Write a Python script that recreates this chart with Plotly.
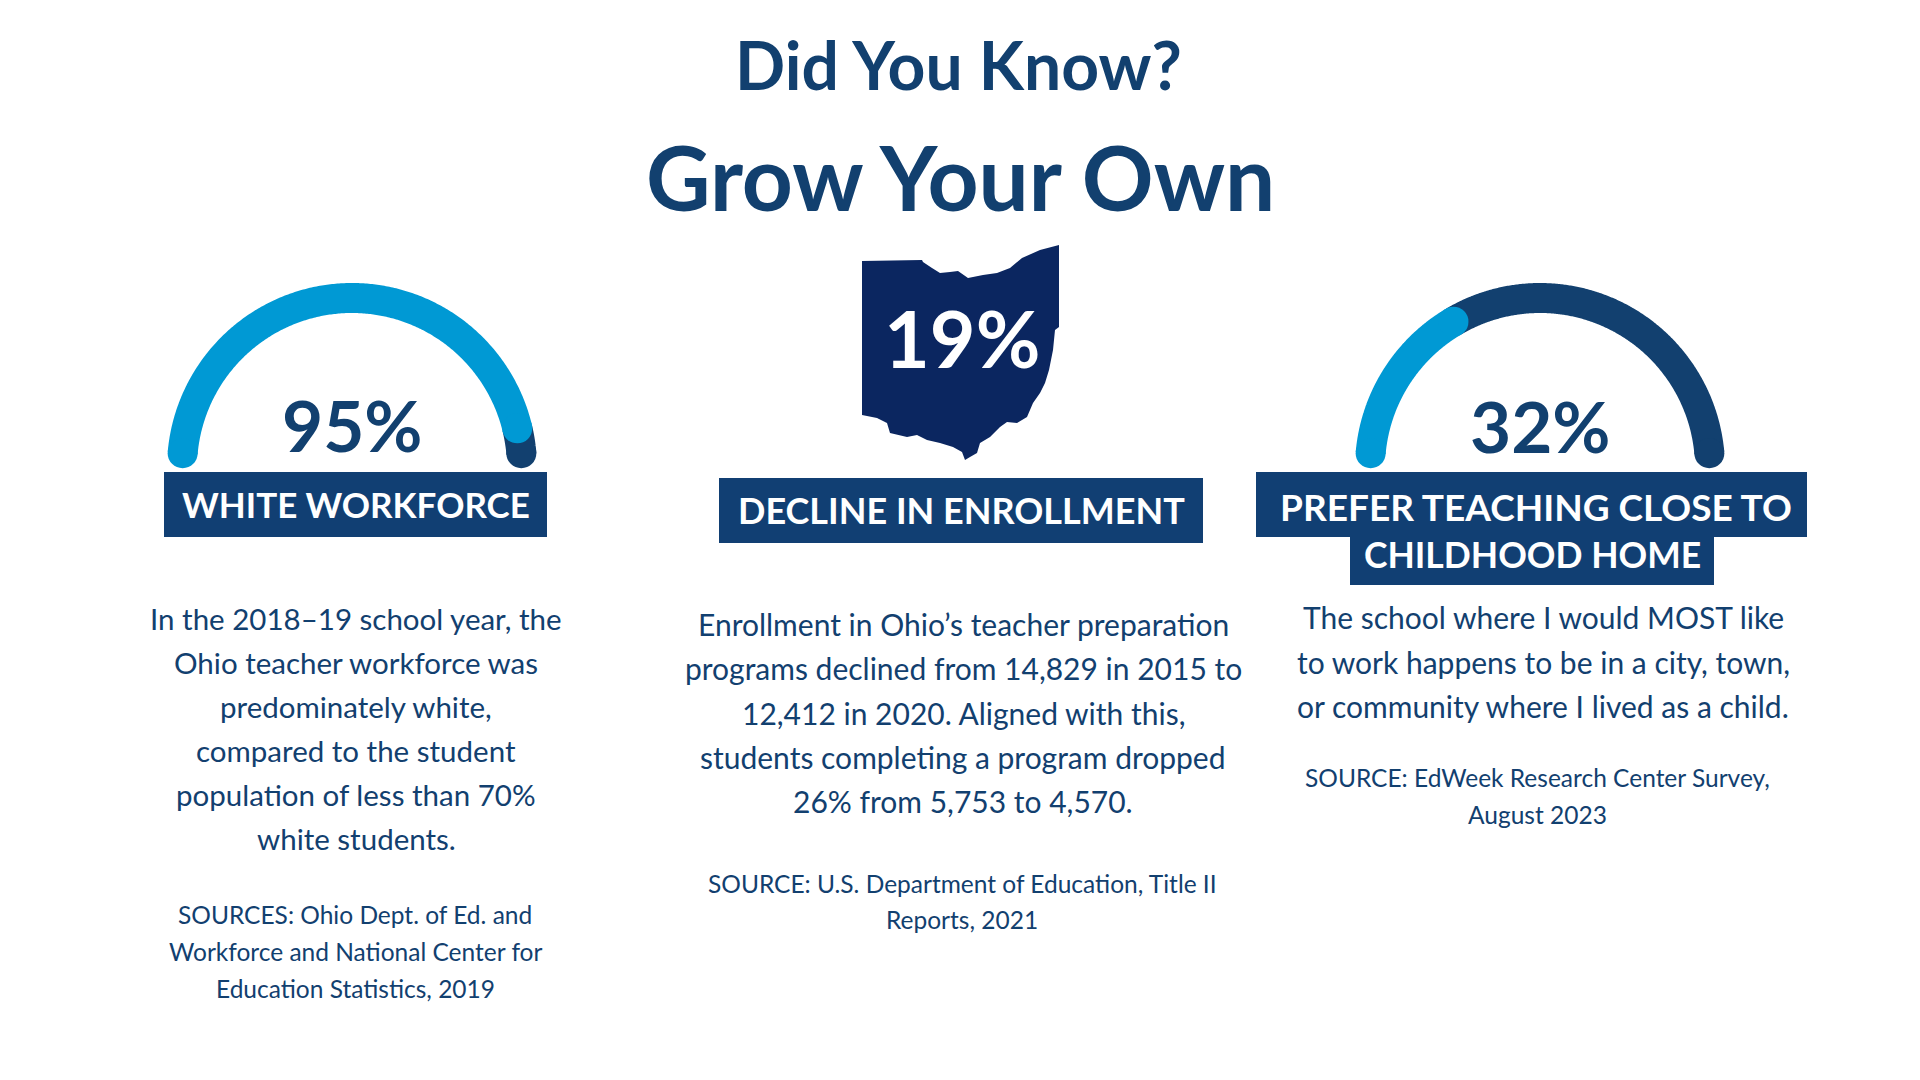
import numpy as np
import plotly.graph_objects as go

# --- data ---
gauge_names = ["WHITE WORKFORCE", "PREFER TEACHING CLOSE TO CHILDHOOD HOME"]
gauge_values = [95, 32]
enrollment_decline = 19

left_body = ["In the 2018\u201319 school year, the", "Ohio teacher workforce was",
             "predominately white,", "compared to the student",
             "population of less than 70%", "white students."]
left_source = ["SOURCES: Ohio Dept. of Ed. and", "Workforce and National Center for",
               "Education Statistics, 2019"]
mid_body = ["Enrollment in Ohio\u2019s teacher preparation", "programs declined from 14,829 in 2015 to",
            "12,412 in 2020. Aligned with this,", "students completing a program dropped",
            "26% from 5,753 to 4,570."]
mid_source = ["SOURCE: U.S. Department of Education, Title II", "Reports, 2021"]
right_body = ["The school where I would MOST like", "to work happens to be in a city, town,",
              "or community where I lived as a child."]
right_source = ["SOURCE: EdWeek Research Center Survey,", "August 2023"]

NAVY = "#12406f"
BOX = "#113f73"
LIGHT = "#0099d4"
OHIO = "#0b2660"
FONT = "Lato"

fig = go.Figure()


def arc(cx, cy, r, a0, a1):
    t = np.radians(np.linspace(a0, a1, 300))
    return cx + r * np.cos(t), cy - r * np.sin(t)


def gauge(cx, value):
    cy, r, start, stop = 468, 170, 175, 5
    end = start - (start - stop) * value / 100
    x, y = arc(cx, cy, r, end, stop)
    fig.add_trace(go.Scatter(x=x, y=y, mode="lines",
                             line=dict(color=NAVY, width=30, simplify=False),
                             hoverinfo="skip"))
    fig.add_trace(go.Scatter(x=[x[-1]], y=[y[-1]], mode="markers",
                             marker=dict(color=NAVY, size=30), hoverinfo="skip"))
    x, y = arc(cx, cy, r, start, end)
    fig.add_trace(go.Scatter(x=x, y=y, mode="lines",
                             line=dict(color=LIGHT, width=30, simplify=False),
                             hoverinfo="skip"))
    fig.add_trace(go.Scatter(x=[x[0], x[-1]], y=[y[0], y[-1]], mode="markers",
                             marker=dict(color=LIGHT, size=30), hoverinfo="skip"))


gauge(352, gauge_values[0])
gauge(1540, gauge_values[1])

# Ohio outline
ohio = [(862, 261), (922, 260), (923, 262), (932, 268), (940, 273), (950, 272), (958, 271),
        (968, 278), (983, 275), (997, 273), (1010, 268), (1022, 258), (1040, 250), (1059, 245),
        (1059, 327), (1055, 330), (1053, 350), (1049, 370), (1045, 383), (1040, 393),
        (1033, 403), (1027, 417), (1017, 423), (1007, 422), (1000, 427), (990, 437),
        (980, 443), (977, 453), (970, 457), (965, 460), (962, 452), (953, 447), (940, 443),
        (927, 440), (917, 435), (907, 437), (890, 433), (887, 423), (877, 418), (862, 415)]
path = "M " + " L ".join(f"{x},{y}" for x, y in ohio) + " Z"
fig.add_shape(type="path", path=path, fillcolor=OHIO, line_width=0, layer="below")

# label boxes
for x0, y0, x1, y1 in [(164, 472, 547, 537), (719, 478, 1203, 543),
                       (1256, 472, 1807, 537), (1350, 536, 1714, 585)]:
    fig.add_shape(type="rect", x0=x0, y0=y0, x1=x1, y1=y1, fillcolor=BOX, line_width=0)


def text(x, y, s, size, color=NAVY, bold=False):
    fig.add_annotation(x=x, y=y, text=f"<b>{s}</b>" if bold else s, showarrow=False,
                       xanchor="center", yanchor="middle",
                       font=dict(family=FONT, size=size, color=color))


text(958, 64, "Did You Know?", 66, bold=True)
text(960, 176, "Grow Your Own", 89, bold=True)
text(352, 424, f"{gauge_values[0]}%", 71, bold=True)
text(1540, 425, f"{gauge_values[1]}%", 71, bold=True)
text(962, 337, f"{enrollment_decline}%", 79, color="white", bold=True)

text(356, 504, gauge_names[0], 35, color="white", bold=True)
text(961, 510, "DECLINE IN ENROLLMENT", 36, color="white", bold=True)
text(1536, 506, "PREFER TEACHING CLOSE TO", 37, color="white", bold=True)
text(1532, 554, "CHILDHOOD HOME", 35.5, color="white", bold=True)

for i, s in enumerate(left_body):
    text(356, 618 + 44 * i, s, 29.5)
for i, s in enumerate(left_source):
    text(355, 914 + 37 * i, s, 24.5)
for i, s in enumerate(mid_body):
    text(963, 624 + 44.3 * i, s, 30)
for i, s in enumerate(mid_source):
    text(962, 883 + 36 * i, s, 24.5)
for i, s in enumerate(right_body):
    text(1543, 617 + 44.5 * i, s, 30)
for i, s in enumerate(right_source):
    text(1537, 777 + 37 * i, s, 24.5)

# the page body has an 8px margin, so the plot starts at (8, 8)
fig.update_layout(
    width=1912, height=1072, margin=dict(l=0, r=0, t=0, b=0),
    paper_bgcolor="white", plot_bgcolor="white", showlegend=False,
    xaxis=dict(range=[8, 1920], visible=False, fixedrange=True),
    yaxis=dict(range=[1080, 8], visible=False, fixedrange=True),
)

fig.write_html("out.html")
